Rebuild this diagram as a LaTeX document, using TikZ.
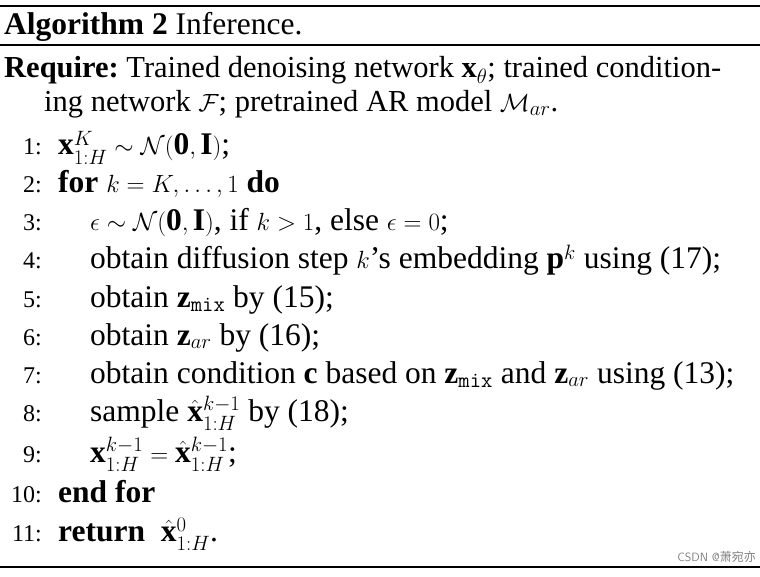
\documentclass[tikz,border=0pt]{standalone}
\usepackage{amsmath}
\usepackage{fontspec}
\setmainfont{Liberation Serif}
\newfontfamily\cjkf{Noto Sans CJK SC}
\begin{document}
\begin{tikzpicture}[x=1pt,y=-1pt,
  ln/.style={anchor=base east,inner sep=0pt,font=\fontsize{24}{26}\selectfont},
  tx/.style={anchor=base west,inner sep=0pt},
  every node/.style={font=\fontsize{31.5}{34}\selectfont}]
\useasboundingbox (0,0) rectangle (760,577);
\draw[line width=2pt] (0,6) -- (760,6);
\draw[line width=1.2pt] (0,45) -- (760,45);
\draw[line width=1.2pt] (0,567) -- (760,567);
\node[tx] (t) at (4,35) {\textbf{Algorithm 2} Inference.};
\node[tx,font=\fontsize{30.5}{34}\selectfont] (r) at (4,78) {\textbf{Require:}\ Trained denoising network $\mathbf{x}_\theta$; trained condition-};
\node[tx,font=\fontsize{30.5}{34}\selectfont] (r2) at (44,112) {ing network $\mathcal{F}$; pretrained AR model $\mathcal{M}_{ar}$.};
\foreach \n/\y in {1/155,2/193,3/231,4/269,5/307,6/345,7/383,8/421,9/462,10/502,11/541}
  \node[ln] (n\n) at (42,\y) {\n:};
\node[tx] (l1) at (58,155) {$\mathbf{x}_{1:H}^{K}\sim\mathcal{N}(\mathbf{0},\mathbf{I})$;};
\node[tx] (l2) at (58,193) {\textbf{for} $k=K,\ldots,1$ \textbf{do}};
\node[tx] (l3) at (90,231) {$\epsilon\sim\mathcal{N}(\mathbf{0},\mathbf{I})$, if $k>1$, else $\epsilon=0$;};
\node[tx] (l4) at (90,269) {obtain diffusion step $k$'s embedding $\mathbf{p}^k$ using (17);};
\node[tx] (l5) at (90,307) {obtain $\mathbf{z}_{\mathtt{mix}}$ by (15);};
\node[tx] (l6) at (90,345) {obtain $\mathbf{z}_{ar}$ by (16);};
\node[tx] (l7) at (90,383) {obtain condition $\mathbf{c}$ based on $\mathbf{z}_{\mathtt{mix}}$ and $\mathbf{z}_{ar}$ using (13);};
\node[tx] (l8) at (90,421) {sample $\hat{\mathbf{x}}_{1:H}^{k-1}$ by (18);};
\node[tx] (l9) at (90,462) {$\mathbf{x}_{1:H}^{k-1}=\hat{\mathbf{x}}_{1:H}^{k-1}$;};
\node[tx] (l10) at (58,502) {\textbf{end for}};
\node[tx] (l11) at (58,541) {\textbf{return}\ \ $\hat{\mathbf{x}}_{1:H}^{0}$.};
\node[anchor=base east,inner sep=0pt,text=gray,font=\fontsize{12}{14}\selectfont\sffamily] (wm) at (756,561) {CSDN @{\cjkf 萧宛亦}};
\end{tikzpicture}
\end{document}
